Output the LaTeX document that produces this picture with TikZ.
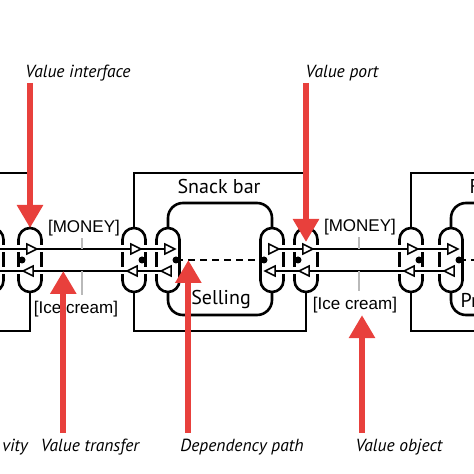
\documentclass[tikz,border=0pt]{standalone}
\usepackage{fontspec}
\newfontfamily\myriadfont{PT Sans}
\newfontfamily\helvfont{Liberation Sans}
\usepackage{xcolor}
\definecolor{dndo}{HTML}{E8403C}
\definecolor{dnxam}{HTML}{B9B9B9}
\def\maumui{dndo}
\def\mauvach{dnxam}
\usepackage{tikz}
\usetikzlibrary{calc,shapes,shapes.geometric,positioning,arrows.meta}

\begin{document}
\begin{tikzpicture}[x=1pt,y=1pt,declare function={%
			rr=11.5;
			hh=32;
			yc=214;
		}
		]%
		\tikzset{
			khung/.style={line width=2.6pt,black},
			pics/vinterface/.style={code={
				\path[fill=white,draw=black,line width=2.6pt,rounded corners=11.5pt] (-rr,-hh) rectangle (rr,hh);
				\coordinate (-ra) at (0,11);
				\coordinate (-vao) at (0,-11);
				\coordinate (-cham) at (#1*8,0);
				\coordinate (-tren) at (0,hh);
			}},
			cong/.style={isosceles triangle,isosceles triangle stretches,draw,fill=white,line width=1.5pt,inner sep=0pt,minimum width=10pt,minimum height=10pt},
			nutcham/.style={circle,fill=black,inner sep=0pt,minimum size=7pt},
			chuyen/.style={line width=2.2pt,black,preaction={draw=white,line width=7pt}},
			phuthuoc/.style={line width=2.8pt,dash pattern=on 7pt off 5pt},
			vach/.style={line width=2pt,\mauvach},
			doituong/.style={font=\helvfont\fontsize{17}{20}\selectfont,inner sep=2pt},
			nhan/.style={font=\myriadfont\itshape\fontsize{17.5}{20}\selectfont,inner sep=1pt,anchor=base},
			tenbox/.style={font=\myriadfont\fontsize{20}{23}\selectfont},
			muiten/.style={line width=6pt,\maumui,-{Triangle[width=25pt,length=23pt]}}
		}
		\useasboundingbox (0,0) rectangle (474,474);
		\clip (0,0) rectangle (474,474);
		%%%Vẽ các tác nhân
		\draw[khung] (-80,143) rectangle (30,301);
		\draw[khung] (134,143) rectangle (306,301);
		\draw[khung] (411,143) rectangle (560,301);
		%%%Vẽ các hoạt động
		\draw[khung,rounded corners=15pt] (-120,159) rectangle (-8,271);
		\draw[khung,rounded corners=15pt] (168,159) rectangle (272,271);
		\draw[khung,rounded corners=15pt] (451,159) rectangle (580,271);
		\node[tenbox] (snack) at (219,287) {Snack bar};
		\node[tenbox] (selling) at (221,174) {Selling};
		\node[tenbox,anchor=west] (fam) at (466,287) {F};
		\node[tenbox,anchor=west] (prod) at (457,174) {Pr};
		%%%Vẽ các giao diện
		\foreach \ten/\x/\s in {ga/-8/-1,gb/30/-1,sa/134/1,sb/168/1,sc/272/-1,sd/306/-1,pa/411/1,pb/451/1}{%
			\pic (\ten) at (\x,yc) {vinterface=\s};
		}
		%%%Vẽ chuyển giao giá trị
		\foreach \a/\b in {ga/gb,gb/sa,sa/sb,sc/sd,sd/pa,pa/pb}{%
			\draw[chuyen] (\a-ra) -- (\b-ra);
			\draw[chuyen] (\a-vao) -- (\b-vao);
		}
		\coordinate (pend) at (490,yc);
		\draw[phuthuoc] (sb-cham) -- (sc-cham);
		\draw[phuthuoc] (pb-cham) -- (pend);
		\foreach \ten in {ga,gb,sa,sb,sc,sd,pa,pb}{%
			\node[cong] (\ten-o) at (\ten-ra) {};
			\node[cong,shape border rotate=180] (\ten-i) at (\ten-vao) {};
			\node[nutcham] (\ten-d) at (\ten-cham) {};
		}
		%%%Vẽ đối tượng giá trị
		\coordinate (m1) at ($(gb-ra)!0.5!(sa-ra)$);
		\coordinate (m2) at ($(gb-vao)!0.5!(sa-vao)$);
		\coordinate (m3) at ($(sd-ra)!0.5!(pa-ra)$);
		\coordinate (m4) at ($(sd-vao)!0.5!(pa-vao)$);
		\node[doituong] (tien1) at (84,246) {[MONEY]};
		\node[doituong] (kem1) at (76,165) {[Ice cream]};
		\node[doituong] (tien2) at (360,247) {[MONEY]};
		\node[doituong] (kem2) at (355,169) {[Ice cream]};
		\draw[vach] (m1) -- (m1 |- tien1.south);
		\draw[vach] (m2) -- ([yshift=4pt]m2 |- kem1.north);
		\draw[vach] (m3) -- (m3 |- tien2.south);
		\draw[vach] (m4) -- ([yshift=4pt]m4 |- kem2.north);
		%%%Vẽ chú thích
		\node[nhan] (lvi) at (78,396) {Value interface};
		\node[nhan] (lvp) at (342,396) {Value port};
		\node[nhan,anchor=base east] (lva) at (29,22) {vity};
		\node[nhan] (lvt) at (90,22) {Value transfer};
		\node[nhan] (ldp) at (242,22) {Dependency path};
		\node[nhan] (lvo) at (399,22) {Value object};
		\coordinate (tvt) at ($(gb-vao)!0.32!(sa-vao)$);
		\coordinate (tdp) at ($(sb-cham)!0.14!(sc-cham)$);
		\coordinate (tvo) at ([xshift=7pt]kem2.south);
		\draw[muiten] ([yshift=-5pt]lvi.base -| gb-tren) -- (gb-tren);
		\draw[muiten] ([yshift=-5pt]lvp.base -| sd-ra) -- ([yshift=7pt]sd-ra);
		\draw[muiten] ([yshift=19pt]lvt.base -| tvt) -- (tvt);
		\draw[muiten] ([yshift=19pt]ldp.base -| tdp) -- (tdp);
		\draw[muiten] ([yshift=19pt]lvo.base -| tvo) -- (tvo);
	\end{tikzpicture}
\end{document}
